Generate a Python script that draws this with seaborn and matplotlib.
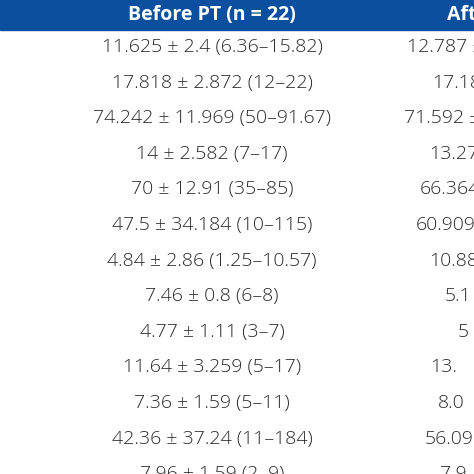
import matplotlib
matplotlib.use("Agg")
import matplotlib.pyplot as plt
import seaborn as sns

sns.set_theme(style="white")
plt.rcParams['font.family'] = ['Open Sans', 'DejaVu Sans']

header_left = "Before PT (n = 22)"
header_right = "After PT (n = 22)"
before = ["11.625 ± 2.4 (6.36–15.82)", "17.818 ± 2.872 (12–22)", "74.242 ± 11.969 (50–91.67)",
          "14 ± 2.582 (7–17)", "70 ± 12.91 (35–85)", "47.5 ± 34.184 (10–115)",
          "4.84 ± 2.86 (1.25–10.57)", "7.46 ± 0.8 (6–8)", "4.77 ± 1.11 (3–7)",
          "11.64 ± 3.259 (5–17)", "7.36 ± 1.59 (5–11)", "42.36 ± 37.24 (11–184)",
          "7.96 ± 1.59 (2–9)"]
after = ["12.787 ±", "17.18", "71.592 ±", "13.27", "66.364", "60.909", "10.88",
         "5.1", "5", "13.", "8.0", "56.09", "7.9"]
after_x = [407, 432, 404, 429, 420, 416, 429, 445, 458, 430, 438, 425, 440]

fig = plt.figure(figsize=(4.74, 4.74), dpi=100)
ax = fig.add_axes([0, 0, 1, 1])
ax.set_xlim(0, 474)
ax.set_ylim(474, 0)
ax.axis("off")
ax.add_patch(plt.Rectangle((0, 0), 474, 30, color="#0b4f9e", clip_on=True))
ax.text(212, 15, header_left, ha="center", va="center", color="white", fontsize=14, fontweight="bold")
ax.text(447, 15, header_right, ha="left", va="center", color="white", fontsize=14, fontweight="bold", clip_on=True)
for i, (b, a, x) in enumerate(zip(before, after, after_x)):
    y = 47 + i * 35.6
    ax.text(212, y, b, ha="center", va="center", color="#2a2a2a", fontsize=14, fontweight="light")
    ax.text(x, y, a, ha="left", va="center", color="#2a2a2a", fontsize=14, fontweight="light", clip_on=True)
fig.savefig("out.png", dpi=100)
